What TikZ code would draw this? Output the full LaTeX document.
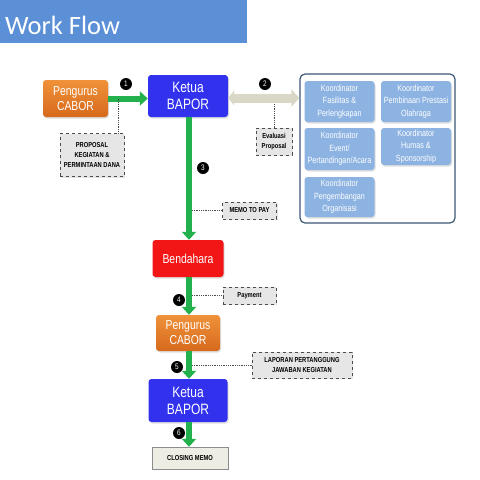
\documentclass[tikz,border=0pt]{standalone}
\usepackage{fontspec}
\setmainfont{Liberation Sans}
\newfontfamily\titlefont{Carlito}
\newfontfamily\narrowfont[FakeStretch=0.8]{Liberation Sans}
\usetikzlibrary{arrows.meta,shadows}

\definecolor{titleblue}{HTML}{5B8FD6}
\definecolor{caborTop}{HTML}{F0923A}
\definecolor{caborBot}{HTML}{D6691C}
\definecolor{baporblue}{HTML}{3232EE}
\definecolor{bendred}{HTML}{F21616}
\definecolor{flowgreen}{HTML}{22B14C}
\definecolor{evalbeige}{HTML}{D9D7C5}
\definecolor{koorblue}{HTML}{8DB3E2}
\definecolor{panelline}{HTML}{3B5876}
\definecolor{notefill}{HTML}{E6E6E6}
\definecolor{closefill}{HTML}{EEEDE4}

\tikzset{
   unit/.style={rounded corners=3pt, text=white, align=center, inner sep=0pt,
      drop shadow={opacity=0.25, shadow xshift=1pt, shadow yshift=-1.5pt}},
   cabor/.style={unit, top color=caborTop, bottom color=caborBot, font=\narrowfont\fontsize{13}{15}\selectfont},
   bapor/.style={unit, fill=baporblue, font=\narrowfont\fontsize{15}{17}\selectfont},
   koor/.style={unit, fill=koorblue, minimum width=70pt, font=\narrowfont\fontsize{9}{12.5}\selectfont},
   note/.style={draw=black!70, dashed, fill=notefill, align=center, inner sep=1pt,
      font=\narrowfont\bfseries\fontsize{7.2}{10}\selectfont,
      drop shadow={opacity=0.2, shadow xshift=1pt, shadow yshift=-1pt}},
   numdot/.style={circle, fill=black, text=white, inner sep=0pt, minimum size=12pt,
      font=\narrowfont\fontsize{8}{8}\selectfont},
   flow/.style={draw=flowgreen, line width=6pt, -{Triangle[width=14pt,length=8pt]}},
   leader/.style={densely dotted, black!70, line width=0.8pt}
}

\begin{document}
\begin{tikzpicture}[x=1pt,y=-1pt]
   \useasboundingbox (0,0) rectangle (480,480);

   % title bar
   \fill[titleblue] (0,0) rectangle (247,43);
   \node[anchor=base west, text=white, inner sep=0pt, font=\titlefont\fontsize{26.5}{26.5}\selectfont]
      (title) at (5,34) {Work Flow};

   % top row
   \node[cabor, minimum width=65pt, minimum height=37pt] (cabor1) at (75.5,98.5) {Pengurus\\CABOR};
   \node[bapor, minimum width=80pt, minimum height=42pt] (bapor1) at (188,96) {Ketua\\BAPOR};
   \draw[flow] (cabor1.east) -- (cabor1.east -| bapor1.west);
   \node[numdot] (n1) at (126,84) {1};
   \node[note, minimum width=64pt, minimum height=43pt] (prop) at (92,155)
      {PROPOSAL\\KEGIATAN \&\\PERMINTAAN DANA};
   \coordinate (d1) at (118,98.5);
   \draw[leader] (d1) -- (d1 |- prop.north);

   % koordinator panel
   \node[draw=panelline, line width=1.2pt, rounded corners=5pt, fill=white,
      minimum width=155pt, minimum height=149pt] (panel) at (377.5,148.5) {};
   \node[koor, minimum height=41pt] (fas) at (339.5,101.5) {Koordinator\\Fasilitas \&\\Perlengkapan};
   \node[koor, minimum height=41pt] (bin) at (416,101.5) {Koordinator\\Pembinaan Prestasi\\Olahraga};
   \node[koor, minimum height=42pt] (evt) at (339.5,149) {Koordinator\\Event/\\Pertandingan/Acara};
   \node[koor, minimum height=37pt] (hum) at (416,146.5) {Koordinator\\Humas \&\\Sponsorship};
   \node[koor, minimum height=40pt] (org) at (339.5,197) {Koordinator\\Pengembangan\\Organisasi};

   \draw[evalbeige, line width=9pt, {Triangle[width=15pt,length=6pt]}-{Triangle[width=17pt,length=8pt]}]
      (bapor1.east |- 0,98) -- (panel.west |- 0,98);
   \node[numdot] (n2) at (265,84) {2};
   \node[note, minimum width=36pt, minimum height=27pt] (eval) at (274,141.5) {Evaluasi\\Proposal};
   \coordinate (d2) at (274,104);
   \draw[leader] (d2) -- (eval.north);

   % down the column
   \node[unit, fill=bendred, minimum width=71pt, minimum height=37pt,
      font=\narrowfont\fontsize{13}{15}\selectfont] (bend) at (188,258.5) {Bendahara};
   \node[cabor, minimum width=64pt, minimum height=36pt] (cabor2) at (188,333) {Pengurus\\CABOR};
   \node[bapor, minimum width=79pt, minimum height=43pt] (bapor2) at (188,400.5) {Ketua\\BAPOR};
   \node[draw=black!45, fill=closefill, minimum width=76pt, minimum height=22pt, inner sep=0pt,
      font=\narrowfont\bfseries\fontsize{7.2}{8}\selectfont] (close) at (190,458) {CLOSING MEMO};

   \draw[flow] ([xshift=1pt]bapor1.south) -- ([xshift=1pt]bend.north);
   \draw[flow] ([xshift=1pt]bend.south) -- ([xshift=1pt]cabor2.north);
   \draw[flow] ([xshift=1pt]cabor2.south) -- ([xshift=1pt]bapor2.north);
   \draw[flow] ([xshift=1pt]bapor2.south) -- ([xshift=1pt]bapor2.south |- close.north);

   \node[numdot] (n3) at (203,168) {3};
   \node[numdot] (n4) at (179,300) {4};
   \node[numdot] (n5) at (177,367) {5};
   \node[numdot] (n6) at (179,433) {6};

   % notes on the column
   \node[note, minimum width=54pt, minimum height=17pt] (memo) at (249.5,210.5) {MEMO TO PAY};
   \node[note, minimum width=53pt, minimum height=17pt] (pay) at (249.5,295.5) {Payment};
   \node[note, minimum width=100pt, minimum height=26pt] (lap) at (302,365)
      {LAPORAN PERTANGGUNG\\JAWABAN KEGIATAN};
   \coordinate (d3) at (192,210.5);
   \coordinate (d4) at (192,295.5);
   \coordinate (d5) at (192,365);
   \draw[leader] (d3) -- (memo.west);
   \draw[leader] (d4) -- (pay.west);
   \draw[leader] (d5) -- (lap.west);
\end{tikzpicture}
\end{document}
